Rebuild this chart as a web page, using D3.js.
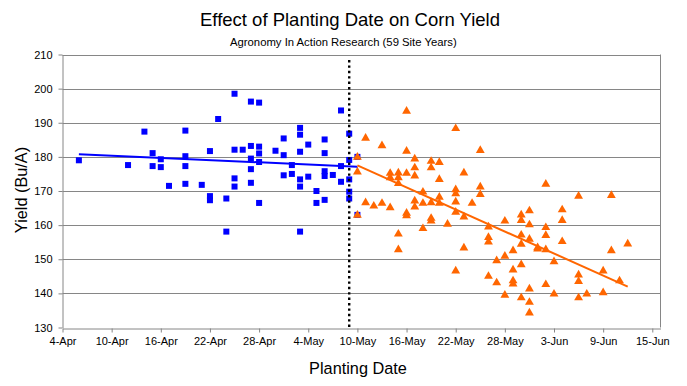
<!DOCTYPE html>
<html>
<head>
  <meta charset="utf-8">
  <script src="https://d3js.org/d3.v7.min.js"></script>
  <style>
  body {
    margin: 0;
    background: #fff;
  }
  text {
    font-family: "Liberation Sans", Arial, sans-serif;
    fill: #000;
  }
  .tick text {
    font-size: 11px;
  }
</style>
</head>
<body>
<script>

  // planting dates (month/day) and the yields recorded on each one
  var earlyDates = ["4/6", "4/12", "4/14", "4/15", "4/16", "4/17", "4/19", "4/21", "4/22", "4/23",
    "4/24", "4/25", "4/26", "4/27", "4/28", "4/30", "5/1", "5/2", "5/3", "5/4",
    "5/5", "5/6", "5/7", "5/8", "5/9", "5/10"];
  var earlyYields = [[179], [177.6], [187.4], [181.1, 177.3], [179.3, 177], [171.5],
    [187.7, 180.2, 177.3, 172.1], [171.8], [181.7, 168.5, 167.3], [191.1],
    [167.8, 158.1], [198.5, 182.1, 173.7, 171.3], [182.1], [196.2, 183.2, 179.5, 176.4, 172.4],
    [195.9, 183, 181, 178.5, 166.5], [181.8], [185.4, 180.5, 174.6], [177.6, 175],
    [188.5, 186.5, 181.5, 173.4, 171.3, 158.1], [183.6, 174.2], [170, 166.5],
    [185.1, 181.1, 175.8, 174.4, 167.4], [174.7], [193.6, 177.3, 172.7],
    [186.8, 179.1, 173.4, 169.8, 167.8], [180, 163]];

  var lateDates = ["5/10", "5/11", "5/12", "5/13", "5/14", "5/15", "5/16", "5/17", "5/18", "5/19",
    "5/20", "5/21", "5/22", "5/23", "5/24", "5/25", "5/26", "5/27", "5/28", "5/29",
    "5/30", "5/31", "6/1", "6/2", "6/3", "6/4", "6/6", "6/7", "6/9", "6/10", "6/11", "6/12"];
  var lateYields = [[179.9, 175.6, 162.9], [185.5, 166.6], [165.6], [183.3, 166.4],
    [175.2, 173.9, 165.1], [175.3, 173.9, 172.2, 157.4, 152.8], [193.4, 181.7, 175.2, 163.5, 162.8],
    [179.4, 176.8, 174.4, 167.1, 165.3], [169.7, 166.4, 159], [178.7, 176.8, 166.6, 162, 161.2],
    [178.4, 173.4, 168.2, 166.4], [160.3], [188.3, 170.4, 169.2, 166.8, 163.8, 146.6],
    [175.3, 162.4, 153.3], [166.4], [181.9, 171.2, 169], [159.5, 156.4, 155.1, 145],
    [149.6, 143.1], [161.2, 150.9, 139.5], [152.5, 146.9, 143.7, 142.8],
    [163, 161.4, 157.1, 154.4, 148.4, 138.7], [164.2, 160.1, 155.9, 141.3, 137.4, 134.3],
    [153.4, 153], [172, 159.3, 157, 152.8, 142.6], [149.3, 139.8], [164.5, 161.4, 155.2],
    [168.5, 145.4, 143.5, 138.7], [139.8], [146.6, 140.2], [168.7, 152.5], [143.7], [154.5]];

  // trendline ends as drawn on the original chart
  var earlyTrendDates = ["4/6", "5/10"];
  var earlyTrendYields = [180.8, 177.1];
  var lateTrendDates = ["5/10", "6/12"];
  var lateTrendYields = [177.5, 142];

  var cutoffDate = "5/9";
  var xTickLabels = ["4-Apr", "10-Apr", "16-Apr", "22-Apr", "28-Apr", "4-May", "10-May",
    "16-May", "22-May", "28-May", "3-Jun", "9-Jun", "15-Jun"];
  var yTicks = [130, 140, 150, 160, 170, 180, 190, 200, 210];

  var W = 687, H = 386;
  var margin = {top: 54.5, right: 26.5, bottom: 58.5, left: 62.5};

  var parseMD = d3.timeParse("%m/%d");
  var parseTick = d3.timeParse("%d-%b");

  function flatten(dates, yields) {
    var out = [];
    dates.forEach((d, i) => {
      yields[i].forEach(v => { out.push({date: parseMD(d), value: v}); });
    });
    return out;
  }
  var early = flatten(earlyDates, earlyYields);
  var late = flatten(lateDates, lateYields);

  var svg = d3.select("body").append("svg")
    .attr("width", W)
    .attr("height", H);

  var x = d3.scaleTime()
    .domain([parseMD("4/4"), parseMD("6/16")])
    .range([margin.left, W - margin.right]);
  var y = d3.scaleLinear()
    .domain([130, 210])
    .range([H - margin.bottom, margin.top]);

  var grey = "#868686";

  // gridlines
  svg.append("g").selectAll("line")
    .data(yTicks.slice(1))
    .enter().append("line")
    .attr("x1", margin.left).attr("x2", W - margin.right)
    .attr("y1", d => Math.round(y(d)) + 0.5)
    .attr("y2", d => Math.round(y(d)) + 0.5)
    .attr("stroke", grey);

  // right border
  svg.append("line")
    .attr("x1", W - margin.right).attr("x2", W - margin.right)
    .attr("y1", y(210)).attr("y2", y(130))
    .attr("stroke", grey);

  var xAxis = d3.axisBottom(x)
    .tickValues(xTickLabels.map(parseTick).map(d => parseMD((d.getMonth() + 1) + "/" + d.getDate())))
    .tickFormat((d, i) => xTickLabels[i])
    .tickSizeInner(4).tickSizeOuter(0).tickPadding(5);
  var yAxis = d3.axisLeft(y)
    .tickValues(yTicks)
    .tickSizeInner(4).tickSizeOuter(0).tickPadding(6);

  var gx = svg.append("g")
    .attr("transform", "translate(0," + (Math.round(y(130)) + 0.5) + ")")
    .call(xAxis);
  var gy = svg.append("g")
    .attr("transform", "translate(" + margin.left + ",0)")
    .call(yAxis);
  [gx, gy].forEach(g => {
    g.select(".domain").attr("stroke", grey);
    g.selectAll(".tick line").attr("stroke", grey);
    g.attr("font-family", null).attr("font-size", null);
  });

  // markers
  svg.append("g").selectAll("rect")
    .data(early)
    .enter().append("rect")
    .attr("x", d => x(d.date) - 3)
    .attr("y", d => y(d.value) - 3)
    .attr("width", 6).attr("height", 6)
    .attr("fill", "#0000ff");

  var tri = d3.symbol().type(d3.symbolTriangle).size(34);
  svg.append("g").selectAll("path")
    .data(late)
    .enter().append("path")
    .attr("d", tri)
    .attr("transform", d => "translate(" + x(d.date) + "," + y(d.value) + ")")
    .attr("fill", "#ff6600");

  // trendlines
  var line = d3.line().x(d => x(d.date)).y(d => y(d.value));
  function pts(dates, vals) {
    return dates.map((d, i) => ({date: parseMD(d), value: vals[i]}));
  }

  svg.append("path")
    .datum(pts(earlyTrendDates, earlyTrendYields))
    .attr("d", line)
    .attr("fill", "none").attr("stroke", "#0000ff").attr("stroke-width", 2);
  svg.append("path")
    .datum(pts(lateTrendDates, lateTrendYields))
    .attr("d", line)
    .attr("fill", "none").attr("stroke", "#ff6600").attr("stroke-width", 2);

  // cutoff marker
  svg.append("line")
    .attr("x1", x(parseMD(cutoffDate))).attr("x2", x(parseMD(cutoffDate)))
    .attr("y1", y(210) + 5.5).attr("y2", y(130))
    .attr("stroke", "#000").attr("stroke-width", 2.4)
    .attr("stroke-dasharray", "2.4 3");

  // titles
  svg.append("text")
    .attr("x", 200).attr("y", 26)
    .style("font-size", "18.5px")
    .text("Effect of Planting Date on Corn Yield");
  svg.append("text")
    .attr("x", 230).attr("y", 46)
    .style("font-size", "11.3px")
    .text("Agronomy In Action Research (59 Site Years)");
  svg.append("text")
    .attr("x", 358).attr("y", 373.5)
    .attr("text-anchor", "middle")
    .style("font-size", "16.3px")
    .text("Planting Date");
  svg.append("text")
    .attr("transform", "translate(27,190) rotate(-90)")
    .attr("text-anchor", "middle")
    .style("font-size", "16.3px")
    .text("Yield (Bu/A)");

</script>
</body>
</html>
